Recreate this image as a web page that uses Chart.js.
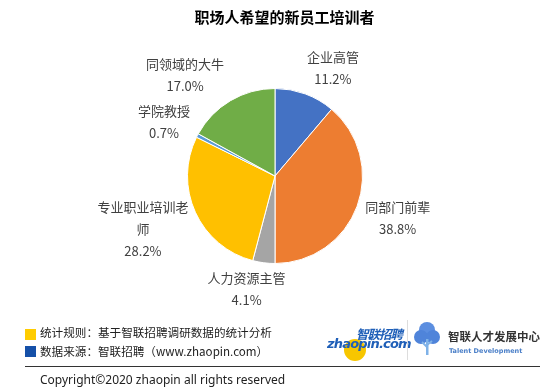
<!DOCTYPE html>
<html><head><meta charset="utf-8">
<script src="https://cdn.jsdelivr.net/npm/chart.js@4"></script>
<style>
html,body{margin:0;padding:0;background:#fff;}
body{width:555px;height:392px;position:relative;overflow:hidden;font-family:"Noto Sans CJK SC","Microsoft YaHei",sans-serif;}
#wrap{position:absolute;left:0;top:0;width:555px;height:392px;}
#title{position:absolute;left:0;width:555px;top:6px;text-align:center;font-size:15px;font-weight:bold;color:#000;padding-left:14px;box-sizing:border-box;}
.sq{position:absolute;width:11px;height:11px;}
.ft{position:absolute;left:40px;font-size:11.6px;color:#222;white-space:nowrap;}
#rule{position:absolute;left:25px;top:366px;width:515px;height:1px;background:#333;}
#copy{position:absolute;left:40px;top:371px;font-size:12px;color:#222;font-family:"Noto Sans","Noto Sans CJK SC",sans-serif;}
#sep{position:absolute;left:407px;top:320px;width:1px;height:40px;background:#ddd;}
.zp1{position:absolute;left:356px;top:324px;font-size:12.5px;font-style:italic;font-weight:bold;color:#1f5fb8;letter-spacing:-1px;}
.zp2{position:absolute;left:327px;top:336px;font-size:13px;font-style:italic;font-weight:bold;color:#1f5fb8;font-family:"DejaVu Sans",sans-serif;letter-spacing:-0.8px;}
.circ{position:absolute;left:344px;top:339px;width:22px;height:22px;border-radius:50%;background:#f7c600;}
.zdc1{position:absolute;left:448px;top:328px;font-size:11.5px;font-weight:bold;color:#333;}
.zdc2{position:absolute;left:449px;top:347px;font-size:6.5px;font-weight:bold;color:#4a7fc8;font-family:"DejaVu Sans",sans-serif;}
</style></head>
<body>
<div id="wrap"><canvas id="c" width="555" height="392"></canvas></div>
<div id="title">职场人希望的新员工培训者</div>
<div class="sq" style="left:25px;top:329px;background:#ffcc00"></div>
<div class="sq" style="left:25px;top:346px;background:#1550a8"></div>
<div class="ft" style="top:324px">统计规则：基于智联招聘调研数据的统计分析</div>
<div class="ft" style="top:343px">数据来源：智联招聘（www.zhaopin.com）</div>
<div class="circ"></div>
<div class="zp1">智联招聘</div>
<div class="zp2">zhaopin.com</div>
<div id="sep"></div>
<svg style="position:absolute;left:414px;top:321px" width="26" height="36" viewBox="0 0 26 36">
<circle cx="13" cy="9" r="8" fill="#5b8ee0"/>
<circle cx="7" cy="16" r="7" fill="#4f84da"/>
<circle cx="19" cy="16" r="7" fill="#4f84da"/>
<rect x="12" y="18" width="2.5" height="16" fill="#7fb2e8"/>
<path d="M13 26 L8 21" stroke="#7fb2e8" stroke-width="2"/>
<path d="M13 24 L18 20" stroke="#7fb2e8" stroke-width="2"/>
</svg>
<div class="zdc1">智联人才发展中心</div>
<div class="zdc2">Talent Development</div>
<div id="rule"></div>
<div id="copy">Copyright©2020 zhaopin all rights reserved</div>
<script>
const categories = ['企业高管','同部门前辈','人力资源主管','专业职业培训老师','学院教授','同领域的大牛'];
const labelLines = [['企业高管'],['同部门前辈'],['人力资源主管'],['专业职业培训老','师'],['学院教授'],['同领域的大牛']];
const values = [11.2, 38.8, 4.1, 28.2, 0.7, 17.0];
const colors = ['#4472C4','#ED7D31','#A5A5A5','#FFC000','#5B9BD5','#70AD47'];
const labelNudge = [[14,12],[3,-2],[-12,-13],[-16,0],[2,5],[-25,9]];

const labelPlugin = {
  id:'sliceLabels',
  afterDatasetsDraw(chart){
    const ctx = chart.ctx;
    const meta = chart.getDatasetMeta(0);
    ctx.save();
    ctx.font = '13px "Noto Sans CJK SC", sans-serif';
    ctx.fillStyle = '#404040';
    ctx.textAlign = 'center';
    ctx.textBaseline = 'middle';
    meta.data.forEach((arc,i)=>{
      const p = arc.getProps(['x','y','startAngle','endAngle','outerRadius'],true);
      const mid = (p.startAngle+p.endAngle)/2;
      const rr = p.outerRadius + 40;
      const cx = p.x + Math.cos(mid)*rr + labelNudge[i][0];
      const cy = p.y + Math.sin(mid)*rr + labelNudge[i][1];
      const lines = labelLines[i].concat([values[i].toFixed(1)+'%']);
      const lh = 22;
      const y0 = cy - (lines.length-1)*lh/2;
      lines.forEach((t,k)=>ctx.fillText(t, cx, y0+k*lh));
    });
    ctx.restore();
  }
};

new Chart(document.getElementById('c'),{
  type:'pie',
  data:{labels:categories,datasets:[{data:values,backgroundColor:colors,borderColor:'#ffffff',borderWidth:1}]},
  options:{
    responsive:false,animation:false,
    layout:{padding:{left:187,right:192,top:88,bottom:128}},
    plugins:{legend:{display:false},tooltip:{enabled:false}}
  },
  plugins:[labelPlugin]
});
</script>
</body></html>
